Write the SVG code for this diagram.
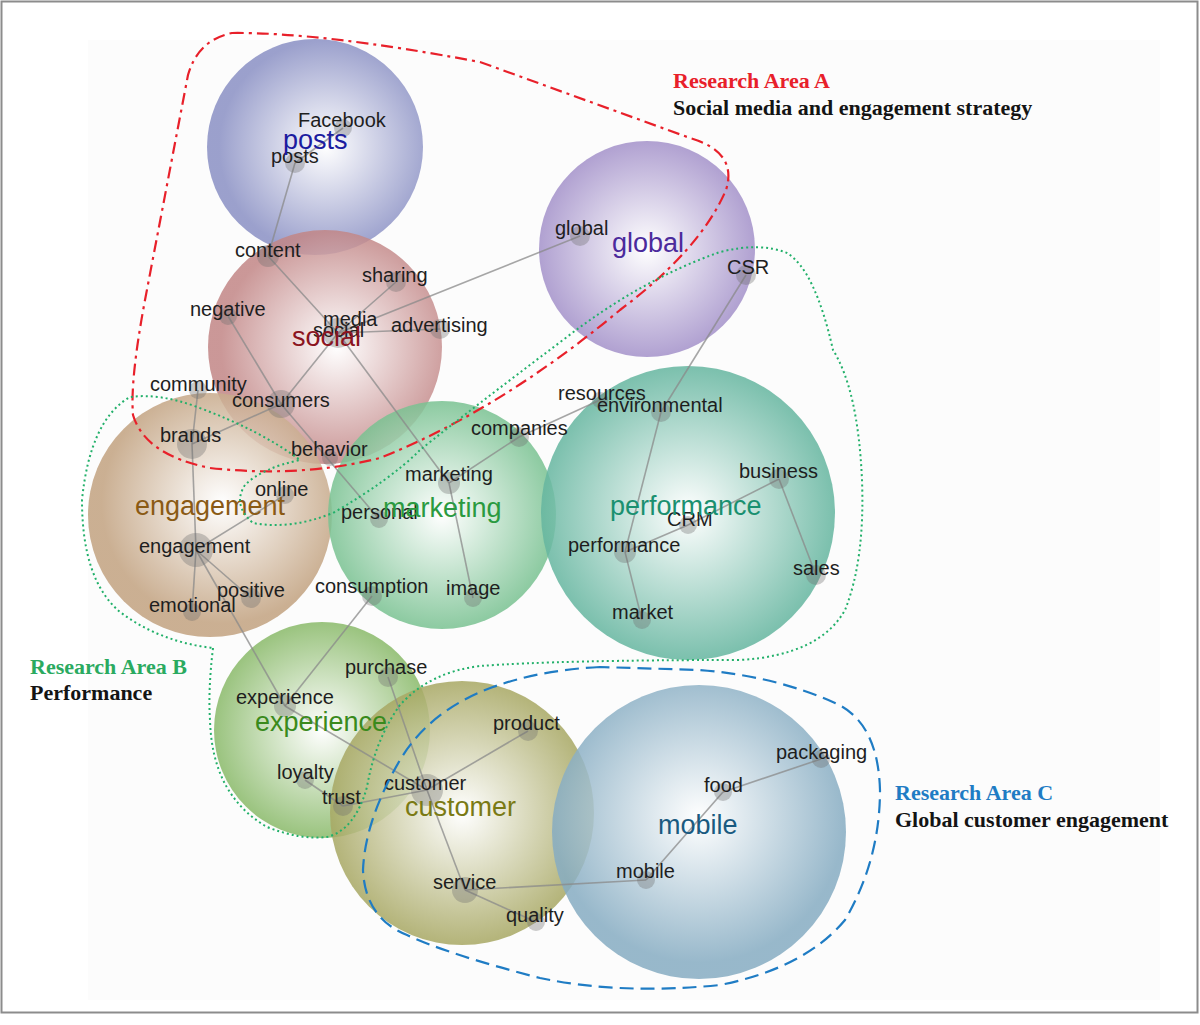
<svg xmlns="http://www.w3.org/2000/svg" width="1200" height="1025" viewBox="0 0 1200 1025">
<defs>
<radialGradient id="gPosts" cx="55%" cy="50%" r="52%"><stop offset="0" stop-color="#ffffff"/><stop offset="0.95" stop-color="#8a90c4"/></radialGradient>
<radialGradient id="gSocial" cx="55%" cy="50%" r="52%"><stop offset="0" stop-color="#ffffff"/><stop offset="0.95" stop-color="#c28686"/></radialGradient>
<radialGradient id="gGlobal" cx="50%" cy="50%" r="52%"><stop offset="0" stop-color="#ffffff"/><stop offset="0.95" stop-color="#a492ca"/></radialGradient>
<radialGradient id="gEngage" cx="55%" cy="45%" r="52%"><stop offset="0" stop-color="#ffffff"/><stop offset="0.95" stop-color="#c2a280"/></radialGradient>
<radialGradient id="gMarket" cx="50%" cy="50%" r="52%"><stop offset="0" stop-color="#ffffff"/><stop offset="0.95" stop-color="#7ac292"/></radialGradient>
<radialGradient id="gPerf" cx="50%" cy="50%" r="52%"><stop offset="0" stop-color="#ffffff"/><stop offset="0.95" stop-color="#66b6a0"/></radialGradient>
<radialGradient id="gExp" cx="50%" cy="50%" r="52%"><stop offset="0" stop-color="#ffffff"/><stop offset="0.95" stop-color="#8aba6a"/></radialGradient>
<radialGradient id="gCust" cx="50%" cy="50%" r="52%"><stop offset="0" stop-color="#ffffff"/><stop offset="0.95" stop-color="#a8a864"/></radialGradient>
<radialGradient id="gMobile" cx="50%" cy="45%" r="52%"><stop offset="0" stop-color="#ffffff"/><stop offset="0.95" stop-color="#86acc2"/></radialGradient>
<style>
.cl{opacity:0.85}
.dot{fill:#6e6e6e;fill-opacity:0.35}
.t{font-family:"Liberation Sans",Arial,sans-serif;font-size:20px;fill:#1e1e1e}
.big{font-family:"Liberation Sans",Arial,sans-serif;font-size:27px}
.edge{stroke:#8a8a8a;stroke-width:1.6;stroke-opacity:0.75;fill:none}
.hd{font-family:"Liberation Serif","Times New Roman",serif;font-size:22px;font-weight:bold}
</style>
</defs>
<rect x="0" y="0" width="1200" height="1025" fill="#ffffff"/>
<rect x="88" y="40" width="1072" height="960" fill="#fcfcfc"/>
<rect x="1.5" y="1.5" width="1196" height="1011" fill="none" stroke="#8c8c8c" stroke-width="2"/>

<g id="clusters">
<g id="cluster-posts"><circle class="cl" cx="315" cy="147" r="108" fill="url(#gPosts)"/></g>
<g id="cluster-social"><circle class="cl" cx="325" cy="347" r="117" fill="url(#gSocial)"/></g>
<g id="cluster-global"><circle class="cl" cx="647" cy="249" r="108" fill="url(#gGlobal)"/></g>
<g id="cluster-engagement"><circle class="cl" cx="210" cy="515" r="122" fill="url(#gEngage)"/></g>
<g id="cluster-marketing"><circle class="cl" cx="442" cy="515" r="114" fill="url(#gMarket)"/></g>
<g id="cluster-performance"><circle class="cl" cx="688" cy="513" r="147" fill="url(#gPerf)"/></g>
<g id="cluster-experience"><circle class="cl" cx="322" cy="730" r="108" fill="url(#gExp)"/></g>
<g id="cluster-customer"><circle class="cl" cx="462" cy="813" r="132" fill="url(#gCust)"/></g>
<g id="cluster-mobile"><circle class="cl" cx="699" cy="832" r="147" fill="url(#gMobile)"/></g>
</g>

<g id="connectors">
<line class="edge" x1="295" y1="163" x2="343" y2="128"/>
<line class="edge" x1="295" y1="163" x2="268" y2="256"/>
<line class="edge" x1="268" y1="256" x2="338" y2="333"/>
<line class="edge" x1="338" y1="333" x2="396" y2="282"/>
<line class="edge" x1="338" y1="333" x2="440" y2="329"/>
<line class="edge" x1="338" y1="333" x2="580" y2="236"/>
<line class="edge" x1="338" y1="333" x2="281" y2="404"/>
<line class="edge" x1="338" y1="333" x2="449" y2="483"/>
<line class="edge" x1="228" y1="316" x2="281" y2="404"/>
<line class="edge" x1="281" y1="404" x2="192" y2="444"/>
<line class="edge" x1="281" y1="404" x2="379" y2="519"/>
<line class="edge" x1="198" y1="390" x2="192" y2="444"/>
<line class="edge" x1="192" y1="444" x2="196" y2="550"/>
<line class="edge" x1="196" y1="550" x2="192" y2="612"/>
<line class="edge" x1="196" y1="550" x2="285" y2="495"/>
<line class="edge" x1="196" y1="550" x2="251" y2="598"/>
<line class="edge" x1="196" y1="550" x2="285" y2="706"/>
<line class="edge" x1="285" y1="706" x2="427" y2="790"/>
<line class="edge" x1="372" y1="596" x2="285" y2="706"/>
<line class="edge" x1="449" y1="483" x2="519" y2="437"/>
<line class="edge" x1="449" y1="483" x2="473" y2="598"/>
<line class="edge" x1="519" y1="437" x2="600" y2="400"/>
<line class="edge" x1="746" y1="275" x2="661" y2="412"/>
<line class="edge" x1="661" y1="412" x2="625" y2="552"/>
<line class="edge" x1="625" y1="552" x2="642" y2="620"/>
<line class="edge" x1="625" y1="552" x2="688" y2="525"/>
<line class="edge" x1="688" y1="525" x2="779" y2="479"/>
<line class="edge" x1="779" y1="479" x2="816" y2="575"/>
<line class="edge" x1="388" y1="677" x2="427" y2="790"/>
<line class="edge" x1="427" y1="790" x2="528" y2="731"/>
<line class="edge" x1="427" y1="790" x2="343" y2="806"/>
<line class="edge" x1="305" y1="780" x2="343" y2="806"/>
<line class="edge" x1="427" y1="790" x2="465" y2="890"/>
<line class="edge" x1="465" y1="890" x2="536" y2="922"/>
<line class="edge" x1="465" y1="890" x2="646" y2="880"/>
<line class="edge" x1="646" y1="880" x2="723" y2="792"/>
<line class="edge" x1="723" y1="792" x2="821" y2="759"/>
</g>

<g id="terms">
<g id="t-facebook"><circle class="dot" cx="343" cy="128" r="9"/><text class="t" x="298" y="127">Facebook</text></g>
<g id="t-posts"><circle class="dot" cx="295" cy="163" r="10"/><text class="t" x="271" y="163">posts</text></g>
<g id="t-content"><circle class="dot" cx="268" cy="256" r="11"/><text class="t" x="235" y="257">content</text></g>
<g id="t-sharing"><circle class="dot" cx="396" cy="282" r="10"/><text class="t" x="362" y="282">sharing</text></g>
<g id="t-negative"><circle class="dot" cx="228" cy="316" r="9"/><text class="t" x="190" y="316">negative</text></g>
<g id="t-media"><circle class="dot" cx="338" cy="333" r="15"/><text class="t" x="323" y="326">media</text><text class="t" x="313" y="337">social</text></g>
<g id="t-advertising"><circle class="dot" cx="440" cy="329" r="10"/><text class="t" x="391" y="332">advertising</text></g>
<g id="t-community"><circle class="dot" cx="198" cy="390" r="9"/><text class="t" x="150" y="391">community</text></g>
<g id="t-consumers"><circle class="dot" cx="281" cy="404" r="14"/><text class="t" x="232" y="407">consumers</text></g>
<g id="t-brands"><circle class="dot" cx="192" cy="444" r="15"/><text class="t" x="160" y="442">brands</text></g>
<g id="t-behavior"><circle class="dot" cx="330" cy="458" r="8"/><text class="t" x="291" y="456">behavior</text></g>
<g id="t-online"><circle class="dot" cx="285" cy="495" r="9"/><text class="t" x="255" y="496">online</text></g>
<g id="t-engagement"><circle class="dot" cx="196" cy="550" r="17"/><text class="t" x="139" y="553">engagement</text></g>
<g id="t-positive"><circle class="dot" cx="251" cy="598" r="10"/><text class="t" x="217" y="597">positive</text></g>
<g id="t-emotional"><circle class="dot" cx="192" cy="612" r="9"/><text class="t" x="149" y="612">emotional</text></g>
<g id="t-companies"><circle class="dot" cx="519" cy="437" r="10"/><text class="t" x="471" y="435">companies</text></g>
<g id="t-resources"><circle class="dot" cx="600" cy="400" r="8"/><text class="t" x="558" y="400">resources</text></g>
<g id="t-environmental"><circle class="dot" cx="661" cy="412" r="10"/><text class="t" x="597" y="412">environmental</text></g>
<g id="t-marketing"><circle class="dot" cx="449" cy="483" r="11"/><text class="t" x="405" y="481">marketing</text></g>
<g id="t-personal"><circle class="dot" cx="379" cy="519" r="9"/><text class="t" x="341" y="519">personal</text></g>
<g id="t-consumption"><circle class="dot" cx="372" cy="596" r="10"/><text class="t" x="315" y="593">consumption</text></g>
<g id="t-image"><circle class="dot" cx="473" cy="598" r="9"/><text class="t" x="446" y="595">image</text></g>
<g id="t-crm"><circle class="dot" cx="688" cy="525" r="9"/><text class="t" x="667" y="526">CRM</text></g>
<g id="t-performance"><circle class="dot" cx="625" cy="552" r="11"/><text class="t" x="568" y="552">performance</text></g>
<g id="t-business"><circle class="dot" cx="779" cy="479" r="10"/><text class="t" x="739" y="478">business</text></g>
<g id="t-sales"><circle class="dot" cx="816" cy="575" r="10"/><text class="t" x="793" y="575">sales</text></g>
<g id="t-market"><circle class="dot" cx="642" cy="620" r="9"/><text class="t" x="612" y="619">market</text></g>
<g id="t-global"><circle class="dot" cx="580" cy="236" r="10"/><text class="t" x="555" y="235">global</text></g>
<g id="t-csr"><circle class="dot" cx="746" cy="275" r="10"/><text class="t" x="727" y="274">CSR</text></g>
<g id="t-purchase"><circle class="dot" cx="388" cy="677" r="10"/><text class="t" x="345" y="674">purchase</text></g>
<g id="t-experience"><circle class="dot" cx="285" cy="706" r="11"/><text class="t" x="236" y="704">experience</text></g>
<g id="t-loyalty"><circle class="dot" cx="305" cy="780" r="9"/><text class="t" x="277" y="779">loyalty</text></g>
<g id="t-trust"><circle class="dot" cx="343" cy="806" r="10"/><text class="t" x="322" y="804">trust</text></g>
<g id="t-customer"><circle class="dot" cx="427" cy="790" r="16"/><text class="t" x="384" y="790">customer</text></g>
<g id="t-product"><circle class="dot" cx="528" cy="731" r="10"/><text class="t" x="493" y="730">product</text></g>
<g id="t-service"><circle class="dot" cx="465" cy="890" r="13"/><text class="t" x="433" y="889">service</text></g>
<g id="t-quality"><circle class="dot" cx="536" cy="922" r="9"/><text class="t" x="506" y="922">quality</text></g>
<g id="t-mobile"><circle class="dot" cx="646" cy="880" r="9"/><text class="t" x="616" y="878">mobile</text></g>
<g id="t-food"><circle class="dot" cx="723" cy="792" r="9"/><text class="t" x="704" y="792">food</text></g>
<g id="t-packaging"><circle class="dot" cx="821" cy="759" r="9"/><text class="t" x="776" y="759">packaging</text></g>
</g>

<g id="cluster-labels">
<text class="big" x="283" y="149" fill="#1c1ca0">posts</text>
<text class="big" x="292" y="346" fill="#8b1420">social</text>
<text class="big" x="612" y="252" fill="#4b2a9c">global</text>
<text class="big" x="135" y="515" fill="#8a5a14">engagement</text>
<text class="big" x="383" y="517" fill="#2a9a40">marketing</text>
<text class="big" x="610" y="515" fill="#1a9070">performance</text>
<text class="big" x="255" y="731" fill="#3a8a1c">experience</text>
<text class="big" x="405" y="816" fill="#7a7a14">customer</text>
<text class="big" x="658" y="834" fill="#1a5a80">mobile</text>
</g>

<g id="areas">
<g id="area-a">
<path d="M 232,33 Q 320,32 480,62 L 690,138 Q 738,152 726,190 Q 700,250 620,310 Q 500,410 380,458 Q 300,478 210,468 Q 145,455 133,415 Q 130,380 145,300 L 188,75 Q 198,40 232,33 Z" fill="none" stroke="#e8202a" stroke-width="2.2" stroke-dasharray="12,5,3,5"/>
<text class="hd" x="673" y="88" fill="#e8202a">Research Area A</text>
<text class="hd" x="673" y="115" fill="#141414">Social media and engagement strategy</text>
</g>
<g id="area-b">
<path d="M 213,648 Q 208,690 210,720 Q 212,795 267,827 Q 300,840 327,837 Q 355,830 367,787 Q 375,740 400,705 Q 430,672 480,666 Q 560,660 740,660 Q 820,655 845,610 Q 865,560 862,480 Q 858,390 833,350 Q 815,270 787,253 Q 760,242 720,252 Q 640,280 563,340 Q 470,410 420,450 Q 390,480 333,513 Q 290,530 253,523 Q 232,505 245,485 Q 262,468 300,460 Q 260,430 197,407 Q 160,393 130,397 Q 90,420 82,500 Q 82,580 120,612 Q 160,642 213,648 Z" fill="none" stroke="#22b06a" stroke-width="2" stroke-dasharray="2,3"/>
<text class="hd" x="30" y="674" fill="#2aaa60">Research Area B</text>
<text class="hd" x="30" y="700" fill="#141414">Performance</text>
</g>
<g id="area-c">
<path d="M 600,667 Q 540,670 493,687 Q 430,710 400,760 Q 365,820 363,870 Q 365,918 407,935 Q 450,955 540,978 Q 620,995 720,985 Q 805,968 845,920 Q 880,860 880,790 Q 878,722 835,703 Q 775,676 700,670 Z" fill="none" stroke="#1f7cc4" stroke-width="2.2" stroke-dasharray="14,7"/>
<text class="hd" x="895" y="800" fill="#1f7cc4">Research Area C</text>
<text class="hd" x="895" y="827" fill="#141414">Global customer engagement</text>
</g>
</g>
</svg>
